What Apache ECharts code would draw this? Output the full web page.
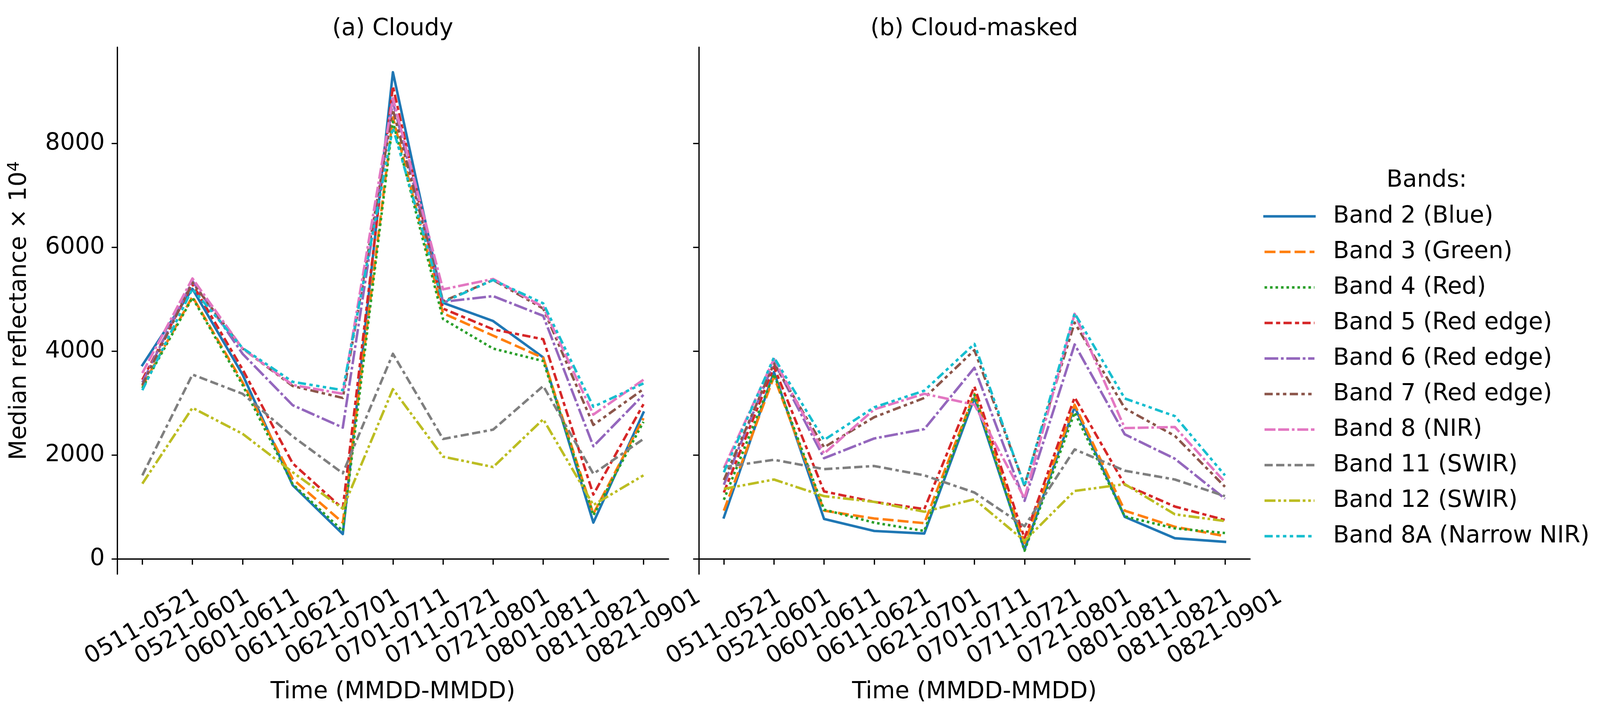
<!DOCTYPE html>
<html>
<head>
<meta charset="utf-8">
<script src="https://cdn.jsdelivr.net/npm/echarts@6/dist/echarts.min.js"></script>
<style>
html,body{margin:0;padding:0;background:#fff;overflow:hidden;width:100%;height:100%;}
#chart{width:100vw;height:100vh;}
</style>
</head>
<body>
<div id="chart"></div>
<script>
const categories = ['0511-0521','0521-0601','0601-0611','0611-0621','0621-0701','0701-0711','0711-0721','0721-0801','0801-0811','0811-0821','0821-0901'];
const bandNames = ['Band 2 (Blue)','Band 3 (Green)','Band 4 (Red)','Band 5 (Red edge)','Band 6 (Red edge)','Band 7 (Red edge)','Band 8 (NIR)','Band 11 (SWIR)','Band 12 (SWIR)','Band 8A (Narrow NIR)'];
const yTicks = [0, 2000, 4000, 6000, 8000];

// (a) Cloudy
const cloudyB2  = [3730, 5200, 3550, 1420, 480, 9370, 4930, 4580, 3880, 700, 2820];
const cloudyB3  = [3330, 5050, 3400, 1540, 700, 8500, 4730, 4300, 3870, 870, 2710];
const cloudyB4  = [3290, 5030, 3350, 1440, 540, 8420, 4620, 4050, 3810, 840, 2640];
const cloudyB5  = [3450, 5290, 3650, 1840, 970, 9100, 4820, 4420, 4230, 1240, 2980];
const cloudyB6  = [3400, 5350, 3950, 2960, 2530, 8800, 4950, 5060, 4680, 2170, 3160];
const cloudyB7  = [3350, 5320, 4050, 3330, 3100, 8650, 4960, 5370, 4820, 2580, 3270];
const cloudyB8  = [3580, 5400, 4050, 3350, 3180, 8870, 5190, 5390, 4850, 2780, 3450];
const cloudyB11 = [1610, 3550, 3180, 2360, 1650, 3950, 2310, 2490, 3330, 1640, 2310];
const cloudyB12 = [1450, 2910, 2410, 1670, 970, 3270, 1970, 1770, 2690, 1040, 1610];
const cloudyB8A = [3250, 5200, 4060, 3410, 3250, 8300, 4940, 5370, 4920, 2930, 3380];

// (b) Cloud-masked
const maskedB2  = [800, 3600, 770, 540, 490, 3100, 180, 2930, 810, 400, 330];
const maskedB3  = [930, 3510, 930, 780, 690, 3180, 310, 2970, 930, 620, 440];
const maskedB4  = [1140, 3560, 950, 700, 540, 3160, 160, 2820, 820, 590, 500];
const maskedB5  = [1280, 3700, 1300, 1100, 960, 3320, 400, 3110, 1430, 1010, 750];
const maskedB6  = [1430, 3790, 1940, 2320, 2500, 3680, 1120, 4130, 2400, 1930, 1160];
const maskedB7  = [1520, 3760, 2150, 2730, 3100, 4020, 1420, 4550, 2900, 2370, 1390];
const maskedB8  = [1750, 3850, 2030, 2880, 3180, 2970, 1170, 4720, 2520, 2540, 1480];
const maskedB11 = [1770, 1910, 1730, 1790, 1610, 1280, 630, 2110, 1700, 1530, 1210];
const maskedB12 = [1350, 1530, 1210, 1100, 910, 1150, 350, 1310, 1440, 860, 730];
const maskedB8A = [1670, 3880, 2290, 2920, 3240, 4140, 1400, 4730, 3090, 2750, 1610];

const cloudyData = [cloudyB2, cloudyB3, cloudyB4, cloudyB5, cloudyB6, cloudyB7, cloudyB8, cloudyB11, cloudyB12, cloudyB8A];
const maskedData = [maskedB2, maskedB3, maskedB4, maskedB5, maskedB6, maskedB7, maskedB8, maskedB11, maskedB12, maskedB8A];

const colors = ['#1f77b4','#ff7f0e','#2ca02c','#d62728','#9467bd','#8c564b','#e377c2','#7f7f7f','#bcbd22','#17becf'];
const dashPatterns = [
  null,
  [29, 10.7],
  [6.8, 7.7],
  [21.7, 8.7, 11, 8.7],
  [36.3, 7, 7.3, 7],
  [21.7, 9, 9, 9, 9, 9],
  [29, 7, 29, 7.3, 7, 7.3],
  [21.7, 9, 21.7, 9, 9, 9],
  [29, 7, 7.3, 7.3, 7, 7.3],
  [21.7, 9, 9, 9, 9, 9, 9, 9]
];

const el = document.getElementById('chart');
const chart = echarts.init(el, null, {renderer: 'canvas'});
const W = chart.getWidth(), H = chart.getHeight();
const sx = W / 4229, sy = H / 1836, ss = Math.min(sx, sy);
const X = v => v * sx, Y = v => v * sy, S = v => v * ss;

const FONT = 'DejaVu Sans';
const FS = S(62);
const LW = S(6.6);
const AXW = S(3.4);

function xAxisDef(gridIndex) {
  return {
    type: 'category', gridIndex: gridIndex, data: categories, boundaryGap: true,
    name: 'Time (MMDD-MMDD)', nameLocation: 'middle', nameGap: Y(272),
    nameTextStyle: {fontFamily: FONT, fontSize: FS, color: '#000'},
    axisLine: {show: true, lineStyle: {color: '#000', width: AXW}},
    axisTick: {show: true, alignWithLabel: true, length: S(15), lineStyle: {color: '#000', width: AXW}},
    axisLabel: {show: true, interval: 0, rotate: 30, align: 'center', verticalAlign: 'middle', margin: Y(136),
      fontFamily: FONT, fontSize: FS, color: '#000', hideOverlap: false},
    splitLine: {show: false}
  };
}
function yAxisDef(gridIndex, showLabels) {
  const a = {
    type: 'value', gridIndex: gridIndex, min: -290, max: 9850,
    axisLine: {show: true, lineStyle: {color: '#000', width: AXW}},
    axisTick: {show: true, length: S(15), customValues: yTicks, lineStyle: {color: '#000', width: AXW}},
    axisLabel: {show: showLabels, customValues: yTicks, margin: X(33), fontFamily: FONT, fontSize: FS, color: '#000',
      formatter: function (v) { return String(v); }},
    splitLine: {show: false}
  };
  if (showLabels) {
    a.name = 'Median reflectance × 10{sup|4}';
    a.nameLocation = 'middle';
    a.nameGap = X(222);
    a.nameTextStyle = {fontFamily: FONT, fontSize: FS, color: '#000',
      rich: {sup: {fontFamily: FONT, fontSize: S(43), color: '#000', verticalAlign: 'top', padding: [0, 0, S(28), 0]}}};
  }
  return a;
}

const series = [];
[cloudyData, maskedData].forEach(function (group, gi) {
  group.forEach(function (vals, i) {
    const dp = dashPatterns[i];
    series.push({
      name: bandNames[i], type: 'line', xAxisIndex: gi, yAxisIndex: gi,
      data: vals, symbol: 'none', showSymbol: false, animation: false,
      lineStyle: {color: colors[i], width: LW, type: dp ? dp.map(S) : 'solid', cap: dp ? 'butt' : 'square', join: 'round'},
      itemStyle: {color: colors[i]},
      emphasis: {disabled: true}
    });
  });
});

const titleStyle = {fontFamily: FONT, fontSize: FS, fontWeight: 'normal', color: '#000'};
chart.setOption({
  backgroundColor: '#fff',
  animation: false,
  title: [
    {text: '(a) Cloudy', left: X(1038), top: Y(44), textAlign: 'center', padding: 0, textStyle: titleStyle},
    {text: '(b) Cloud-masked', left: X(2575), top: Y(44), textAlign: 'center', padding: 0, textStyle: titleStyle},
    {text: 'Bands:', left: X(3771), top: Y(432), textAlign: 'center', padding: 0, textStyle: titleStyle}
  ],
  grid: [
    {left: X(310), top: Y(121), width: X(1457), height: Y(1349)},
    {left: X(1847), top: Y(121), width: X(1457), height: Y(1349)}
  ],
  xAxis: [xAxisDef(0), xAxisDef(1)],
  yAxis: [yAxisDef(0, true), yAxisDef(1, false)],
  legend: {
    data: bandNames, orient: 'vertical', left: X(3339), top: Y(524), padding: 0,
    itemWidth: X(132), itemHeight: 1, itemGap: Y(91) - FS, selectedMode: false,
    itemStyle: {opacity: 0},
    lineStyle: {width: LW},
    formatter: function (name) { return '{gap| }' + name; },
    textStyle: {fontFamily: FONT, fontSize: FS, color: '#000', lineHeight: FS,
      rich: {gap: {width: X(44), fontSize: FS, fontFamily: FONT}}}
  },
  series: series
});
</script>
</body>
</html>
